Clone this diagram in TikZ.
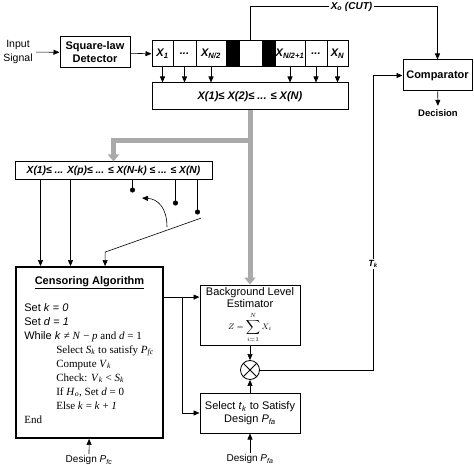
\documentclass[tikz,border=0pt]{standalone}
\usepackage{fontspec}
\setmainfont{Liberation Sans}
\newfontfamily\tms{Liberation Serif}
\usetikzlibrary{arrows.meta}
\definecolor{lgray}{RGB}{170, 170, 170}
\newcommand{\sbi}[1]{\textsubscript{\textit{#1}}}

\begin{document}
\begin{tikzpicture}[x=1pt, y=-1pt, semithick, >={Triangle[length=6pt, width=5pt]},
	box/.style={draw, line width=1pt, align=center, inner sep=1pt},
	cell/.style={draw, line width=1pt, minimum height=26pt, inner sep=0pt, font=\bfseries\itshape\fontsize{11}{13}\selectfont},
	gline/.style={lgray, line width=5pt, -{Triangle[length=7pt, width=11pt]}},
	lbl/.style={font=\fontsize{10}{12}\selectfont, inner sep=1pt}]
	\useasboundingbox (0,0) rectangle (474,465);
	% front end
	\node (in) at (18,52) [align=center, font=\fontsize{10.5}{14}\selectfont] {Input\\Signal};
	\node (det) at (95,52.5) [box, minimum width=70pt, minimum height=31pt, font=\bfseries\fontsize{11}{13}\selectfont] {Square-law\\Detector};
	% reference window
	\node (c1) at (162.5,54) [cell, minimum width=21pt] {X\textsubscript{1}};
	\node (c2) at (184.5,54) [cell, minimum width=23pt] {...};
	\node (c3) at (211,54) [cell, minimum width=30pt] {X\textsubscript{N/2}};
	\node (c4) at (232.5,54) [cell, minimum width=13pt, fill=black] {};
	\node (c5) at (250.5,54) [cell, minimum width=23pt] {};
	\node (c6) at (268.5,54) [cell, minimum width=13pt, fill=black] {};
	\node (c7) at (290,54) [cell, minimum width=30pt] {X\textsubscript{N/2+1}};
	\node (c8) at (316,54) [cell, minimum width=22pt] {...};
	\node (c9) at (337.5,54) [cell, minimum width=21pt] {X\textsubscript{N}};
	\node (sort1) at (250,96.5) [box, minimum width=196pt, minimum height=27pt, font=\bfseries\itshape\fontsize{11}{13}\selectfont] {X(1)≤ X(2)≤ ... ≤ X(N)};
	\node (comp) at (437.5,75.5) [box, minimum width=69pt, minimum height=31pt, font=\bfseries\fontsize{11}{13}\selectfont] {Comparator};
	\node (dec) at (438,113) [font=\bfseries\fontsize{9.5}{11}\selectfont] {Decision};
	\node (sort2) at (113.5,171) [box, minimum width=197pt, minimum height=18pt, font=\bfseries\itshape\fontsize{10.3}{12}\selectfont] {X(1)≤ ... X(p)≤ ... ≤ X(N-k) ≤ ... ≤ X(N)};
	% censoring
	\node (cens) at (89.5,352.5) [draw, line width=1.8pt, minimum width=147pt, minimum height=171pt] {};
	\node (title) at (89.5,283) [font=\bfseries\fontsize{11}{13}\selectfont] {\underline{Censoring Algorithm}};
	\node (algo) at (24,303) [anchor=north west, align=left, inner sep=0pt, font=\fontsize{11}{14}\selectfont] {Set \textit{k} = \textit{0}\\
		Set \textit{d} = \textit{1}\\
		While \textit{k} {\tms ≠ \textit{N} − \textit{p} and \textit{d} = 1}\\
		\hspace*{32pt}{\tms Select \textit{S}\sbi{k} to satisfy \textit{P}\sbi{fc}}\\
		\hspace*{32pt}{\tms Compute \textit{V}\sbi{k}}\\
		\hspace*{32pt}{\tms Check: \textit{V}\sbi{k} < \textit{S}\sbi{k}}\\
		\hspace*{32pt}{\tms If \textit{H}\sbi{o}, Set \textit{d} = 0}\\
		\hspace*{32pt}{\tms Else \textit{k} = \textit{k} + \textit{1}}\\
		{\tms End}};
	\node (dfc) at (89,460) [lbl] {Design \textit{P}\sbi{fc}};
	% estimator
	\node (ble) at (250,315) [box, minimum width=100pt, minimum height=60pt, font=\fontsize{11}{12}\selectfont] {Background Level\\Estimator\\[4pt]{\fontsize{8.5}{9}\selectfont $\displaystyle Z=\sum_{i=1}^{N}X_i$}};
	\node (mul) at (250,370) [circle, draw, thick, minimum size=19pt, inner sep=0pt, path picture={\draw[thick] (path picture bounding box.center) +(45:10pt) -- +(225:10pt) (path picture bounding box.center) +(135:10pt) -- +(-45:10pt);}] {};
	\node (sel) at (250,413) [box, minimum width=100pt, minimum height=40pt, font=\fontsize{11}{13}\selectfont] {Select \textit{t}\sbi{k} to Satisfy\\Design \textit{P}\sbi{fa}};
	\node (dfa) at (250,459) [lbl] {Design \textit{P}\sbi{fa}};
	% connections
	\draw[->] (in) -- (det);
	\draw[->] (det) -- (c1);
	\draw[->] (c5.north) -- ++(0,-34) -| (comp.north) node[pos=0.27, fill=white, inner sep=2pt, font=\bfseries\itshape\fontsize{10}{12}\selectfont] {X\textsubscript{o} (CUT)};
	\draw[->] (c1) -- (c1 |- sort1.north);
	\draw[->] (c2) -- (c2 |- sort1.north);
	\draw[->] (c3) -- (c3 |- sort1.north);
	\draw[->] (c7) -- (c7 |- sort1.north);
	\draw[->] (c8) -- (c8 |- sort1.north);
	\draw[->] (c9) -- (c9 |- sort1.north);
	\draw[gline] (sort1) -- (ble);
	\draw[gline] ([yshift=-30pt]sort1.south) -| (sort2);
	\draw[->] ([xshift=26pt]sort2.south west) coordinate (s1) -- (s1 |- cens.north);
	\draw[->] ([xshift=56pt]sort2.south west) coordinate (s2) -- (s2 |- cens.north);
	\draw[-{Circle[length=5pt]}] ([xshift=118pt]sort2.south west) -- ++(0,12);
	\draw[-{Circle[length=5pt]}] ([xshift=161pt]sort2.south west) -- ++(0,25);
	\draw[-{Circle[length=5pt]}] ([xshift=183pt]sort2.south west) -- ++(0,34);
	\draw[<-] ([xshift=90pt]cens.north west) -- ++(0,-14) -- ++(96,-34);
	\draw[->] (167,227) .. controls (167,208) and (158,199) .. (142,198);
	\coordinate (o) at ([yshift=-31pt]cens.north east);
	\draw[->] (o) -- (o -| ble.west);
	\draw[->] ([xshift=18pt]o) |- (sel.west);
	\draw[->] (ble) -- (mul);
	\draw[->] (sel) -- (mul);
	\draw[->] (mul) -- ++(123,0) |- (comp.west) node[pos=0.18, fill=white, inner sep=1pt, font=\bfseries\itshape\fontsize{9}{11}\selectfont] {T\textsubscript{k}};
	\draw[->] (comp) -- (dec);
	\draw[->] (dfc) -- (cens);
	\draw[->] (dfa) -- (sel);
\end{tikzpicture}
\end{document}
